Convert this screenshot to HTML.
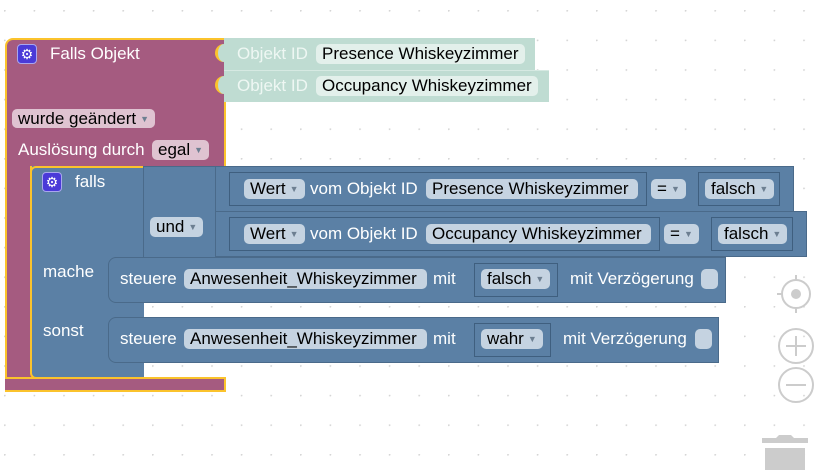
<!DOCTYPE html>
<html><head><meta charset="utf-8"><style>
body{margin:0;width:814px;height:470px;overflow:hidden;background:#fff;font-family:"Liberation Sans",sans-serif;position:relative}
div{position:absolute;box-sizing:border-box}
.t{color:#fff;font-size:17px;line-height:20px;white-space:nowrap}
.f{background:#c5d3e1;border-radius:5px;color:#000;font-size:17px;line-height:20px;height:20px;padding:0 6px;white-space:nowrap}
.pf{background:#dfc3d1}
.gf{background:#e3f0eb}
.ar{font-size:9px;color:#6d7f91;margin-left:4px;vertical-align:2px}
.b{background:#5b80a5;border:1px solid #4a6a8a}
.in{border:1px solid #3f5f7f;background:#5b80a5}
.gear{width:20px;height:20px;background:#4a3ad8;border:1px solid #a9a6ee;border-radius:4px;color:#fff;font-size:14px;line-height:18px;text-align:center}
.tab{width:10px;height:18px;background:#bfdcd2;border-left:3px solid #fbc32c;border-radius:9px 0 0 9px}
</style></head><body>
<svg width="814" height="470" style="position:absolute;left:0;top:0">
<defs><pattern id="d" x="5" y="11" width="29.6" height="29.6" patternUnits="userSpaceOnUse"><circle cx="0.8" cy="0.8" r="0.9" fill="#d4d4d4"/></pattern></defs>
<rect x="0" y="0" width="814" height="470" fill="url(#d)" transform="translate(-1,-1)"/>
</svg>
<!-- purple event block -->
<div style="left:5px;top:38px;width:221px;height:130px;background:#a55b80;border:2px solid #fbc32c;border-bottom:none;border-radius:8px 0 0 0"></div>
<div style="left:5px;top:160px;width:27px;height:232px;background:#a55b80;border:2px solid #fbc32c;border-top:none;border-right:none;border-radius:0 0 0 8px"></div>
<div style="left:5px;top:377px;width:221px;height:15px;background:#a55b80;border:2px solid #fbc32c;border-left:none"></div>
<div class="gear" style="left:17px;top:44px">⚙</div>
<div class="t" style="left:50px;top:44px">Falls Objekt</div>
<div class="f pf" style="left:12px;top:109px;height:19px">wurde geändert<span class="ar">▼</span></div>
<div class="t" style="left:18px;top:140px">Auslösung durch</div>
<div class="f pf" style="left:152px;top:140px">egal<span class="ar">▼</span></div>
<!-- teal blocks -->
<div style="left:224px;top:38px;width:311px;height:32px;background:#bfdcd2"></div>
<div style="left:224px;top:70px;width:325px;height:32px;background:#bfdcd2;border-top:1px solid #d6e9e2"></div>
<div class="tab" style="left:215px;top:44px"></div>
<div class="tab" style="left:215px;top:76px"></div>
<div class="t" style="left:237px;top:44px;color:#eef7f3">Objekt ID</div>
<div class="f gf" style="left:316px;top:44px">Presence Whiskeyzimmer</div>
<div class="t" style="left:237px;top:76px;color:#eef7f3">Objekt ID</div>
<div class="f gf" style="left:316px;top:76px">Occupancy Whiskeyzimmer</div>
<!-- if block -->
<div style="left:30px;top:166px;width:114px;height:213px;background:#5b80a5;border:2px solid #fbc32c;border-right:none;border-top:none;border-radius:0 0 0 6px"></div>
<div style="left:30px;top:166px;width:114px;height:92px;background:#5b80a5;border-top:2px solid #fbc32c;border-left:2px solid #fbc32c;border-radius:6px 0 0 0"></div>
<div style="left:143px;top:166px;width:73px;height:92px;background:#5b80a5;border:1px solid #4a6a8a"></div>
<div class="gear" style="left:42px;top:172px">⚙</div>
<div class="t" style="left:75px;top:172px">falls</div>
<div class="f" style="left:150px;top:217px">und<span class="ar">▼</span></div>
<div class="b" style="left:215px;top:166px;width:579px;height:46px"></div>
<div class="b" style="left:215px;top:211px;width:592px;height:46px"></div>
<div class="in" style="left:229px;top:172px;width:418px;height:34px"></div>
<div class="in" style="left:229px;top:217px;width:431px;height:34px"></div>
<div class="in" style="left:698px;top:172px;width:82px;height:34px"></div>
<div class="in" style="left:711px;top:217px;width:82px;height:34px"></div>
<div class="f" style="left:244px;top:179px">Wert<span class="ar">▼</span></div>
<div class="t" style="left:310px;top:179px">vom Objekt ID</div>
<div class="f" style="left:426px;top:179px;width:212px">Presence Whiskeyzimmer</div>
<div class="f" style="left:651px;top:179px">=<span class="ar">▼</span></div>
<div class="f" style="left:705px;top:179px">falsch<span class="ar">▼</span></div>
<div class="f" style="left:244px;top:224px">Wert<span class="ar">▼</span></div>
<div class="t" style="left:310px;top:224px">vom Objekt ID</div>
<div class="f" style="left:426px;top:224px;width:225px">Occupancy Whiskeyzimmer</div>
<div class="f" style="left:664px;top:224px">=<span class="ar">▼</span></div>
<div class="f" style="left:718px;top:224px">falsch<span class="ar">▼</span></div>
<div class="t" style="left:43px;top:262px">mache</div>
<div class="t" style="left:43px;top:321px">sonst</div>
<!-- set blocks -->
<div class="b" style="left:108px;top:257px;width:618px;height:46px;border-radius:8px 0 0 8px"></div>
<div class="b" style="left:108px;top:317px;width:611px;height:46px;border-radius:8px 0 0 8px"></div>
<div class="t" style="left:120px;top:269px">steuere</div>
<div class="f" style="left:184px;top:269px;width:243px">Anwesenheit_Whiskeyzimmer</div>
<div class="t" style="left:433px;top:269px">mit</div>
<div class="in" style="left:474px;top:263px;width:84px;height:34px"></div>
<div class="f" style="left:481px;top:269px">falsch<span class="ar">▼</span></div>
<div class="t" style="left:570px;top:269px">mit Verzögerung</div>
<div class="f" style="left:701px;top:269px;width:17px;padding:0"></div>
<div class="t" style="left:120px;top:329px">steuere</div>
<div class="f" style="left:184px;top:329px;width:243px">Anwesenheit_Whiskeyzimmer</div>
<div class="t" style="left:433px;top:329px">mit</div>
<div class="in" style="left:474px;top:323px;width:77px;height:34px"></div>
<div class="f" style="left:481px;top:329px">wahr<span class="ar">▼</span></div>
<div class="t" style="left:563px;top:329px">mit Verzögerung</div>
<div class="f" style="left:695px;top:329px;width:17px;padding:0"></div>
<!-- controls -->
<svg width="814" height="470" style="position:absolute;left:0;top:0">
<g fill="none" stroke="#ccc" stroke-width="2">
<circle cx="796" cy="294" r="14"/><line x1="796" y1="275" x2="796" y2="280"/><line x1="796" y1="308" x2="796" y2="313"/><line x1="777" y1="294" x2="782" y2="294"/>
<circle cx="796" cy="346" r="17"/><line x1="786" y1="346" x2="806" y2="346"/><line x1="796" y1="336" x2="796" y2="356"/>
<circle cx="796" cy="385" r="17"/><line x1="786" y1="385" x2="806" y2="385"/>
</g>
<circle cx="796" cy="294" r="5" fill="#ccc"/>
<path d="M762 443h46v-5h-14l-3-3h-12l-3 3h-14z" fill="#ccc"/>
<rect x="765" y="448" width="40" height="22" fill="#ccc"/>
</svg>
</body></html>
